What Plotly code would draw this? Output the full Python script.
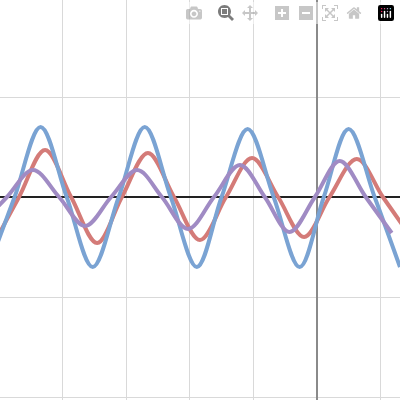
import plotly.graph_objects as go

# points (extrema and zero crossings), x in grid units
blue_x = [-5.17, -4.76, -4.35, -3.94, -3.53, -3.12, -2.71, -2.30, -1.89, -1.50, -1.09, -0.68, -0.27, 0.11, 0.50, 0.91, 1.31]
blue_y = [-0.70, 0, 0.70, 0, -0.70, 0, 0.70, 0, -0.70, 0, 0.68, 0, -0.70, 0, 0.68, 0, -0.70]

red_x = [-5.10, -4.69, -4.28, -3.87, -3.46, -3.07, -2.66, -2.25, -1.84, -1.43, -1.02, -0.61, -0.20, 0.20, 0.63, 1.04, 1.45]
red_y = [-0.48, 0, 0.47, 0, -0.46, 0, 0.44, 0, -0.43, 0, 0.39, 0, -0.40, 0, 0.38, 0, -0.37]

purple_x = [-5.28, -4.88, -4.47, -4.06, -3.65, -3.24, -2.83, -2.44, -2.03, -1.62, -1.21, -0.82, -0.43, -0.03, 0.36, 0.77, 1.18]
purple_y = [-0.27, 0, 0.27, 0, -0.29, 0, 0.27, 0, -0.32, 0, 0.32, 0, -0.35, 0, 0.36, 0, -0.36]

fig = go.Figure()
for xs, ys, col in [(red_x, red_y, '#d47b78'), (blue_x, blue_y, '#7aa3d3'), (purple_x, purple_y, '#a08bc4')]:
    fig.add_trace(go.Scatter(x=xs, y=ys, mode='lines', line=dict(color=col, width=4, shape='spline', smoothing=1.0)))

fig.update_layout(width=400, height=400, margin=dict(l=0, r=0, t=0, b=0),
                  plot_bgcolor='white', paper_bgcolor='white', showlegend=False)
fig.update_xaxes(range=[-4.99, 1.31], dtick=1, showticklabels=False, gridcolor='#d9d9d9',
                 zeroline=True, zerolinecolor='#8a8a8a', zerolinewidth=1.5)
fig.update_yaxes(range=[-2.03, 1.97], dtick=1, showticklabels=False, gridcolor='#d9d9d9',
                 zeroline=True, zerolinecolor='#222222', zerolinewidth=1.5)
fig.write_html("out.html", post_script="document.body.style.margin='0';")
